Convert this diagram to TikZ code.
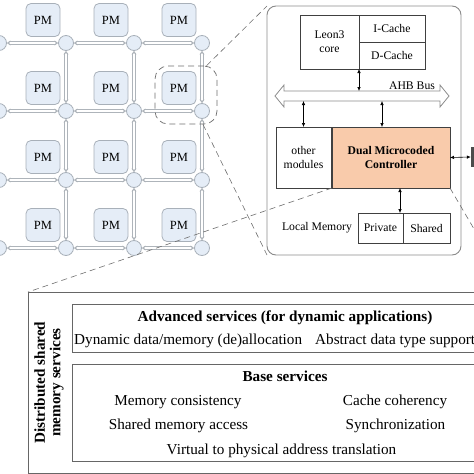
\documentclass[tikz,border=0pt]{standalone}
\usepackage{fontspec}
\setmainfont{Liberation Serif}
\usepackage{tikz}
\usetikzlibrary{arrows.meta,positioning}
\definecolor{pmfill}{HTML}{E5EDF7}
\definecolor{pmline}{HTML}{A8B0B9}
\definecolor{linkc}{HTML}{AEB4BA}
\definecolor{ctrl}{HTML}{F9CBAB}
\definecolor{frame}{HTML}{8A8A8A}
\definecolor{zoomc}{HTML}{6E6E6E}

\begin{document}
\begin{tikzpicture}[x=1pt,y=-1pt,
  router/.style={circle,draw=pmline,fill=pmfill,line width=0.8pt,minimum size=15pt,inner sep=0pt},
  pm/.style={draw=pmline,fill=pmfill,rounded corners=5pt,line width=0.8pt,minimum width=34pt,
             minimum height=33pt,inner sep=0pt,font=\fontsize{12.5}{14}\selectfont},
  link/.style={draw=linkc,double=white,double distance=1.6pt,line width=0.9pt,
               {Stealth[length=3.5pt,width=5pt]}-{Stealth[length=3.5pt,width=5pt]}},
  blk/.style={draw=black!75,line width=0.6pt,inner sep=0pt,outer sep=0pt,align=center,
              font=\fontsize{11.7}{14}\selectfont},
  lbl/.style={inner sep=0pt,font=\fontsize{11.7}{14}\selectfont},
  arr/.style={{Latex[length=4pt,width=3.5pt]}-{Latex[length=4pt,width=3.5pt]},line width=0.6pt},
  zoomline/.style={draw=zoomc,dash pattern=on 6pt off 4pt,line width=0.6pt},
  svcbox/.style={draw=black!60,line width=1pt,inner sep=0pt,outer sep=0pt},
  svc/.style={inner sep=0pt,anchor=base,font=\fontsize{15.2}{17}\selectfont}
]
\useasboundingbox (0,0) rectangle (474,474);
\clip (0,0) rectangle (474,474);

% mesh of routers and processing modules
\foreach \c/\x in {0/-1,1/66,2/134,3/202}
  \foreach \r/\y in {0/43,1/111,2/180,3/248}
    \node[router] (r\c\r) at (\x,\y) {};
\foreach \c in {1,2,3}
  \foreach \r in {0,...,3}
    \node[pm] (pm\c\r) at ([shift={(-23,-23)}]r\c\r) {PM};
\foreach \r in {0,...,3} {
  \coordinate (w\r) at ([xshift=-60pt]r0\r);
  \draw[link] (w\r) -- (r0\r);
  \foreach \a/\b in {0/1,1/2,2/3}
    \draw[link] (r\a\r) -- (r\b\r);
}
\foreach \c in {1,2,3}
  \foreach \a/\b in {0/1,1/2,2/3}
    \draw[link] (r\c\a) -- (r\c\b);
\node[draw=zoomc,dash pattern=on 6pt off 4pt,line width=0.7pt,rounded corners=13pt,
      minimum width=62pt,minimum height=58pt] (zoom) at (186,95) {};

% tile detail
\node[draw=frame,line width=0.9pt,rounded corners=9pt,minimum width=194pt,
      minimum height=249pt,outer sep=0pt] (panel) at (364,130.5) {};
\node[blk,minimum width=59pt,minimum height=54pt] (leon) at (329.5,42) {Leon3\\core};
\node[blk,minimum width=66pt,minimum height=27pt,anchor=north west] (icache) at (leon.north east) {I-Cache};
\node[blk,minimum width=66pt,minimum height=27pt,below=0pt of icache] (dcache) {D-Cache};
\draw[draw=black!45,fill=white,line width=0.8pt]
  (275,96) -- (284,85) -- (284,91) -- (440,91) -- (440,85) -- (449,96)
  -- (440,107) -- (440,101) -- (284,101) -- (284,107) -- cycle;
\coordinate (bustop) at (362,91);
\coordinate (busbot) at (362,101);
\node[lbl,anchor=base] (ahb) at (412,89) {AHB Bus};
\node[blk,minimum width=55pt,minimum height=61pt] (other) at (303.5,157.5) {other\\modules};
\node[blk,fill=ctrl,font=\fontsize{11.7}{14}\selectfont\bfseries,minimum width=118pt,
      minimum height=61pt] (dmc) at (391,157.5) {Dual Microcoded\\Controller};
\node[blk,minimum width=45pt,minimum height=30pt] (priv) at (380.5,228) {Private};
\node[blk,minimum width=47pt,minimum height=30pt,right=0pt of priv] (shar) {Shared};
\node[lbl] (locmem) at (317,228) {Local Memory};
\node[fill=black!70,minimum width=8pt,minimum height=20pt,inner sep=0pt] (ext) at (475,157) {};
\draw[arr] (leon.south east) -- (leon.south east |- bustop);
\draw[arr] (other.north |- busbot) -- (other.north);
\draw[arr] ([xshift=-9pt]dmc.north |- busbot) -- ([xshift=-9pt]dmc.north);
\draw[arr] ([xshift=9pt]dmc.south) -- ([xshift=9pt]dmc.south |- priv.north);
\draw[arr] (dmc.east) -- (ext.west);

% shared memory services
\node[svcbox,minimum width=483pt,minimum height=181pt] (svc) at (269.5,382.5) {};
\node[svcbox,minimum width=426pt,minimum height=48pt] (adv) at (285,328) {};
\node[svcbox,minimum width=426pt,minimum height=97pt] (base) at (285,412.5) {};
\node[svc,anchor=center,rotate=90,align=center,font=\fontsize{15.2}{15.5}\selectfont\bfseries]
  (svclbl) at (49,382.5) {Distributed shared\\memory services};
\node[svc,font=\fontsize{15.2}{17}\selectfont\bfseries] (advt) at (285,321)
  {Advanced services (for dynamic applications)};
\node[svc,anchor=base west] (dyn) at (74,344) {Dynamic data/memory (de)allocation};
\node[svc,anchor=base west] (adt) at (315,344) {Abstract data type support};
\node[svc,font=\fontsize{15.2}{17}\selectfont\bfseries] (baset) at (285,381.5) {Base services};
\node[svc] (consist) at (178,405.5) {Memory consistency};
\node[svc] (coher) at (395,405.5) {Cache coherency};
\node[svc] (shmem) at (178.5,429) {Shared memory access};
\node[svc] (sync) at (395.5,429) {Synchronization};
\node[svc] (virt) at (281.5,454) {Virtual to physical address translation};

% zoom lines
\draw[zoomline] (zoom.55) -- (panel.north west);
\draw[zoomline] (zoom.-60) -- (panel.south west);
\draw[zoomline] (dmc.south west) -- (svc.north west);
\draw[zoomline] (dmc.south east) -- (svc.north east);
\end{tikzpicture}
\end{document}
